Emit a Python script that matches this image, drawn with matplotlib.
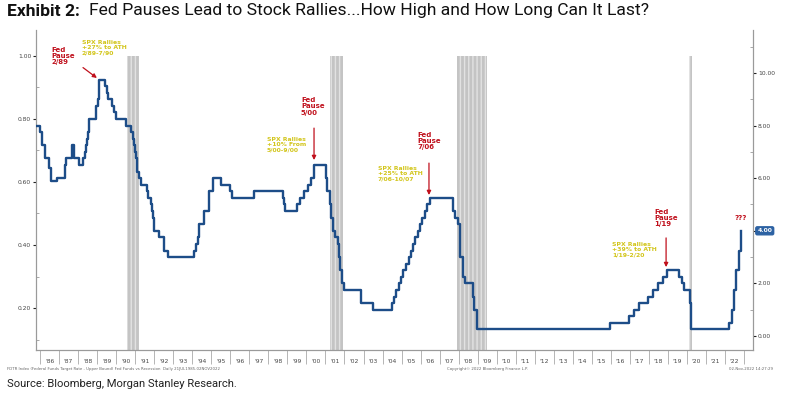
import numpy as np
import matplotlib
matplotlib.use("Agg")
import matplotlib.pyplot as plt
from matplotlib.ticker import FixedLocator, NullFormatter

# Fed funds target rate, upper bound (%), step changes: decimal year -> level
rate_dates = [1985.80, 1986.00, 1986.10, 1986.24, 1986.45, 1986.60, 1986.90, 1987.30, 1987.38,
              1987.68, 1987.80, 1988.05, 1988.25, 1988.35, 1988.42, 1988.48, 1988.52, 1988.57,
              1988.95, 1989.05, 1989.12, 1989.42, 1989.50, 1989.55, 1989.80, 1989.87, 1989.97,
              1990.53, 1990.80, 1990.87, 1990.93, 1990.97, 1991.02, 1991.08, 1991.18, 1991.33,
              1991.60, 1991.70, 1991.83, 1991.87, 1991.93, 1991.97, 1992.27, 1992.50, 1992.70,
              1994.10, 1994.22, 1994.30, 1994.38, 1994.62, 1994.88, 1995.08, 1995.52, 1995.97,
              1996.08, 1997.23, 1998.75, 1998.80, 1998.88, 1999.50, 1999.65, 1999.88, 2000.10,
              2000.22, 2000.38, 2001.01, 2001.08, 2001.22, 2001.30, 2001.38, 2001.49, 2001.64,
              2001.72, 2001.78, 2001.85, 2001.95, 2002.85, 2003.48, 2004.49, 2004.61, 2004.72,
              2004.86, 2004.95, 2005.09, 2005.23, 2005.37, 2005.50, 2005.61, 2005.72, 2005.84,
              2005.95, 2006.08, 2006.24, 2006.36, 2006.49, 2007.72, 2007.83, 2007.95, 2008.06,
              2008.08, 2008.22, 2008.33, 2008.77, 2008.83, 2008.96, 2015.96, 2016.96, 2017.21,
              2017.46, 2017.96, 2018.22, 2018.46, 2018.74, 2018.97, 2019.58, 2019.71, 2019.83,
              2020.17, 2020.21, 2022.21, 2022.34, 2022.46, 2022.57, 2022.72, 2022.84]
rate_levels = [8.00, 7.75, 7.25, 6.75, 6.375, 5.875, 6.00, 6.50, 6.75,
               7.25, 6.75, 6.50, 6.75, 7.00, 7.25, 7.50, 7.75, 8.25,
               8.75, 9.00, 9.75, 9.50, 9.25, 9.00, 8.75, 8.50, 8.25,
               8.00, 7.75, 7.50, 7.25, 7.00, 6.75, 6.25, 6.00, 5.75,
               5.50, 5.25, 5.00, 4.75, 4.50, 4.00, 3.75, 3.25, 3.00,
               3.25, 3.50, 3.75, 4.25, 4.75, 5.50, 6.00, 5.75, 5.50,
               5.25, 5.50, 5.25, 5.00, 4.75, 5.00, 5.25, 5.50, 5.75,
               6.00, 6.50, 6.00, 5.50, 5.00, 4.50, 4.00, 3.75, 3.50,
               3.00, 2.50, 2.00, 1.75, 1.25, 1.00, 1.25, 1.50, 1.75,
               2.00, 2.25, 2.50, 2.75, 3.00, 3.25, 3.50, 3.75, 4.00,
               4.25, 4.50, 4.75, 5.00, 5.25, 4.75, 4.50, 4.25, 3.50,
               3.00, 2.25, 2.00, 1.50, 1.00, 0.25, 0.50, 0.75, 1.00,
               1.25, 1.50, 1.75, 2.00, 2.25, 2.50, 2.25, 2.00, 1.75,
               1.25, 0.25, 0.50, 1.00, 1.75, 2.50, 3.25, 4.00]

# US recessions (start, end) in decimal years
recessions = [(1990.56, 1991.21), (2001.22, 2001.90), (2007.91, 2009.49), (2020.10, 2020.27)]

years = list(range(1986, 2023))
year_labels = ["'%02d" % (y % 100) for y in years]

# Fed pauses: date, level at pause, label
pause_dates = [1988.99, 2000.40, 2006.44, 2018.90]
pause_levels = [9.75, 6.50, 5.25, 2.50]
pause_labels = ["Fed\nPause\n2/89", "Fed\nPause\n5/00", "Fed\nPause\n7/06", "Fed\nPause\n1/19"]
rally_labels = ["SPX Rallies\n+27% to ATH\n2/89-7/90", "SPX Rallies\n+10% From\n5/00-9/00",
                "SPX Rallies\n+25% to ATH\n7/06-10/07", "SPX Rallies\n+39% to ATH\n1/19-2/20"]
last_value = "4.00"

BLUE = '#1d4d88'
RED = '#c0101c'
YELLOW = '#d2c51a'
GREY_TXT = '#444444'


# helpers: reference pixel -> data coords (layout only)
def px(x):
    return 1986 + (x - 40) / 19.03


def py(y):
    return (336 - y) / 26.3


fig = plt.figure(figsize=(8.02, 3.97), dpi=100)
ax = fig.add_axes([36 / 802, 47 / 397, 717 / 802, 320 / 397])
ax2 = ax.twinx()

# recession shading on the left (0-1) axis
for s, e in recessions:
    ax.fill_between([s, e], 0, 1.0, facecolor='#c4c4c4', edgecolor='#e2e2e2',
                    hatch='||||', linewidth=0, zorder=1)

ax.set_xlim(px(36), px(753))
ax.set_ylim(1 - (350 - 56) / 315, 1 + (56 - 30) / 315)
ax2.set_ylim(py(350), py(30))

# fed funds line
ax2.step(rate_dates, rate_levels, where='post', color=BLUE, lw=1.7, zorder=3)

# spines
for a in (ax, ax2):
    a.spines['top'].set_visible(False)
    for sp in ('left', 'right', 'bottom'):
        a.spines[sp].set_color('#9a9a9a')
        a.spines[sp].set_linewidth(0.8)

# left axis ticks
ax.set_yticks([0.2, 0.4, 0.6, 0.8, 1.0])
ax.set_yticklabels(['0.20', '0.40', '0.60', '0.80', '1.00'])
ax.yaxis.set_minor_locator(FixedLocator([0.1, 0.3, 0.5, 0.7, 0.9]))
ax.tick_params(axis='y', which='major', direction='out', length=2.5, width=0.8,
               color='#222222', labelsize=4.3, labelcolor=GREY_TXT, pad=1)
ax.tick_params(axis='y', which='minor', direction='in', length=2, width=0.6, color='#9a9a9a')

# right axis ticks
ax2.set_yticks([0, 2, 4, 6, 8, 10])
ax2.set_yticklabels(['0.00', '2.00', '4.00', '6.00', '8.00', '10.00'])
ax2.yaxis.set_minor_locator(FixedLocator([1, 3, 5, 7, 9, 11]))
ax2.tick_params(axis='y', which='major', direction='out', length=2.5, width=0.8,
                color='#222222', labelsize=4.3, labelcolor=GREY_TXT, pad=1)
ax2.tick_params(axis='y', which='minor', direction='in', length=2, width=0.6, color='#9a9a9a')

# x axis: year boundaries as ticks, labels centred in each year
ax.set_xticks(list(range(1986, 2024)))
ax.xaxis.set_major_formatter(NullFormatter())
ax.set_xticks([y + 0.5 for y in years], minor=True)
ax.set_xticklabels(year_labels, minor=True)
ax.tick_params(axis='x', which='major', direction='out', length=10, width=0.7, color='#b5b5b5')
ax.tick_params(axis='x', which='minor', length=0, labelsize=4.3, labelcolor=GREY_TXT, pad=6.5)

# pause arrows and labels
tail_offsets = [(-10, 7.5), (0, 23), (0, 23), (0, 21)]
gaps = [0.06, 0.19, 0.11, 0.12]
for d, lv, off, g in zip(pause_dates, pause_levels, tail_offsets, gaps):
    ax2.annotate('', xy=(d, lv + g), xytext=off, textcoords='offset points',
                 arrowprops=dict(arrowstyle='-|>', color=RED, lw=0.9, mutation_scale=6,
                                 shrinkA=0, shrinkB=0), zorder=5)

pause_text_pos = [(51, 47), (301, 97), (417, 132), (654, 209)]
for (x, y), t in zip(pause_text_pos, pause_labels):
    ax2.text(px(x), py(y), t, color=RED, fontsize=5, fontweight='bold', ha='left', va='top',
             linespacing=1.05, zorder=5)

rally_text_pos = [(82, 40), (267, 137), (378, 166), (612, 242)]
for (x, y), t in zip(rally_text_pos, rally_labels):
    ax2.text(px(x), py(y), t, color=YELLOW, fontsize=4.4, fontweight='bold', ha='left', va='top',
             linespacing=1.05, zorder=5)

ax2.text(rate_dates[-1], rate_levels[-1] + 0.5, '???', color=RED, fontsize=5, fontweight='bold',
         ha='center', va='center', zorder=5)

# last value tag on right axis
ax2.text(1.006, rate_levels[-1], last_value, transform=ax2.get_yaxis_transform(), color='white',
         fontsize=4.3, fontweight='bold', ha='left', va='center',
         bbox=dict(boxstyle='round,pad=0.25', fc='#2d62a3', ec='#2d62a3'), clip_on=False)

# titles and footers
fig.text(7 / 802, 1 - 11 / 397, 'Exhibit 2:', fontfamily='Roboto', fontweight='bold',
         fontsize=12.6, va='center', ha='left', color='#111111')
fig.text(89 / 802, 1 - 11 / 397, 'Fed Pauses Lead to Stock Rallies...How High and How Long Can It Last?',
         fontfamily='Roboto', fontsize=12.6, va='center', ha='left', color='#111111')

fig.text(7 / 802, 1 - 369 / 397,
         'FDTR Index (Federal Funds Target Rate - Upper Bound) Fed Funds vs Recession  Daily 21JUL1985-02NOV2022',
         fontsize=2.8, color='#666666', va='center', ha='left')
fig.text(488 / 802, 1 - 369 / 397, 'Copyright\u00a9 2022 Bloomberg Finance L.P.',
         fontsize=2.8, color='#666666', va='center', ha='center')
fig.text(751 / 802, 1 - 369 / 397, '02-Nov-2022 14:27:29',
         fontsize=2.8, color='#666666', va='center', ha='center')
fig.text(7 / 802, 1 - 384 / 397, 'Source: Bloomberg, Morgan Stanley Research.',
         fontfamily='Roboto', fontsize=8.1, va='center', ha='left', color='#222222')

fig.savefig('out.png', dpi=100, facecolor='white')
